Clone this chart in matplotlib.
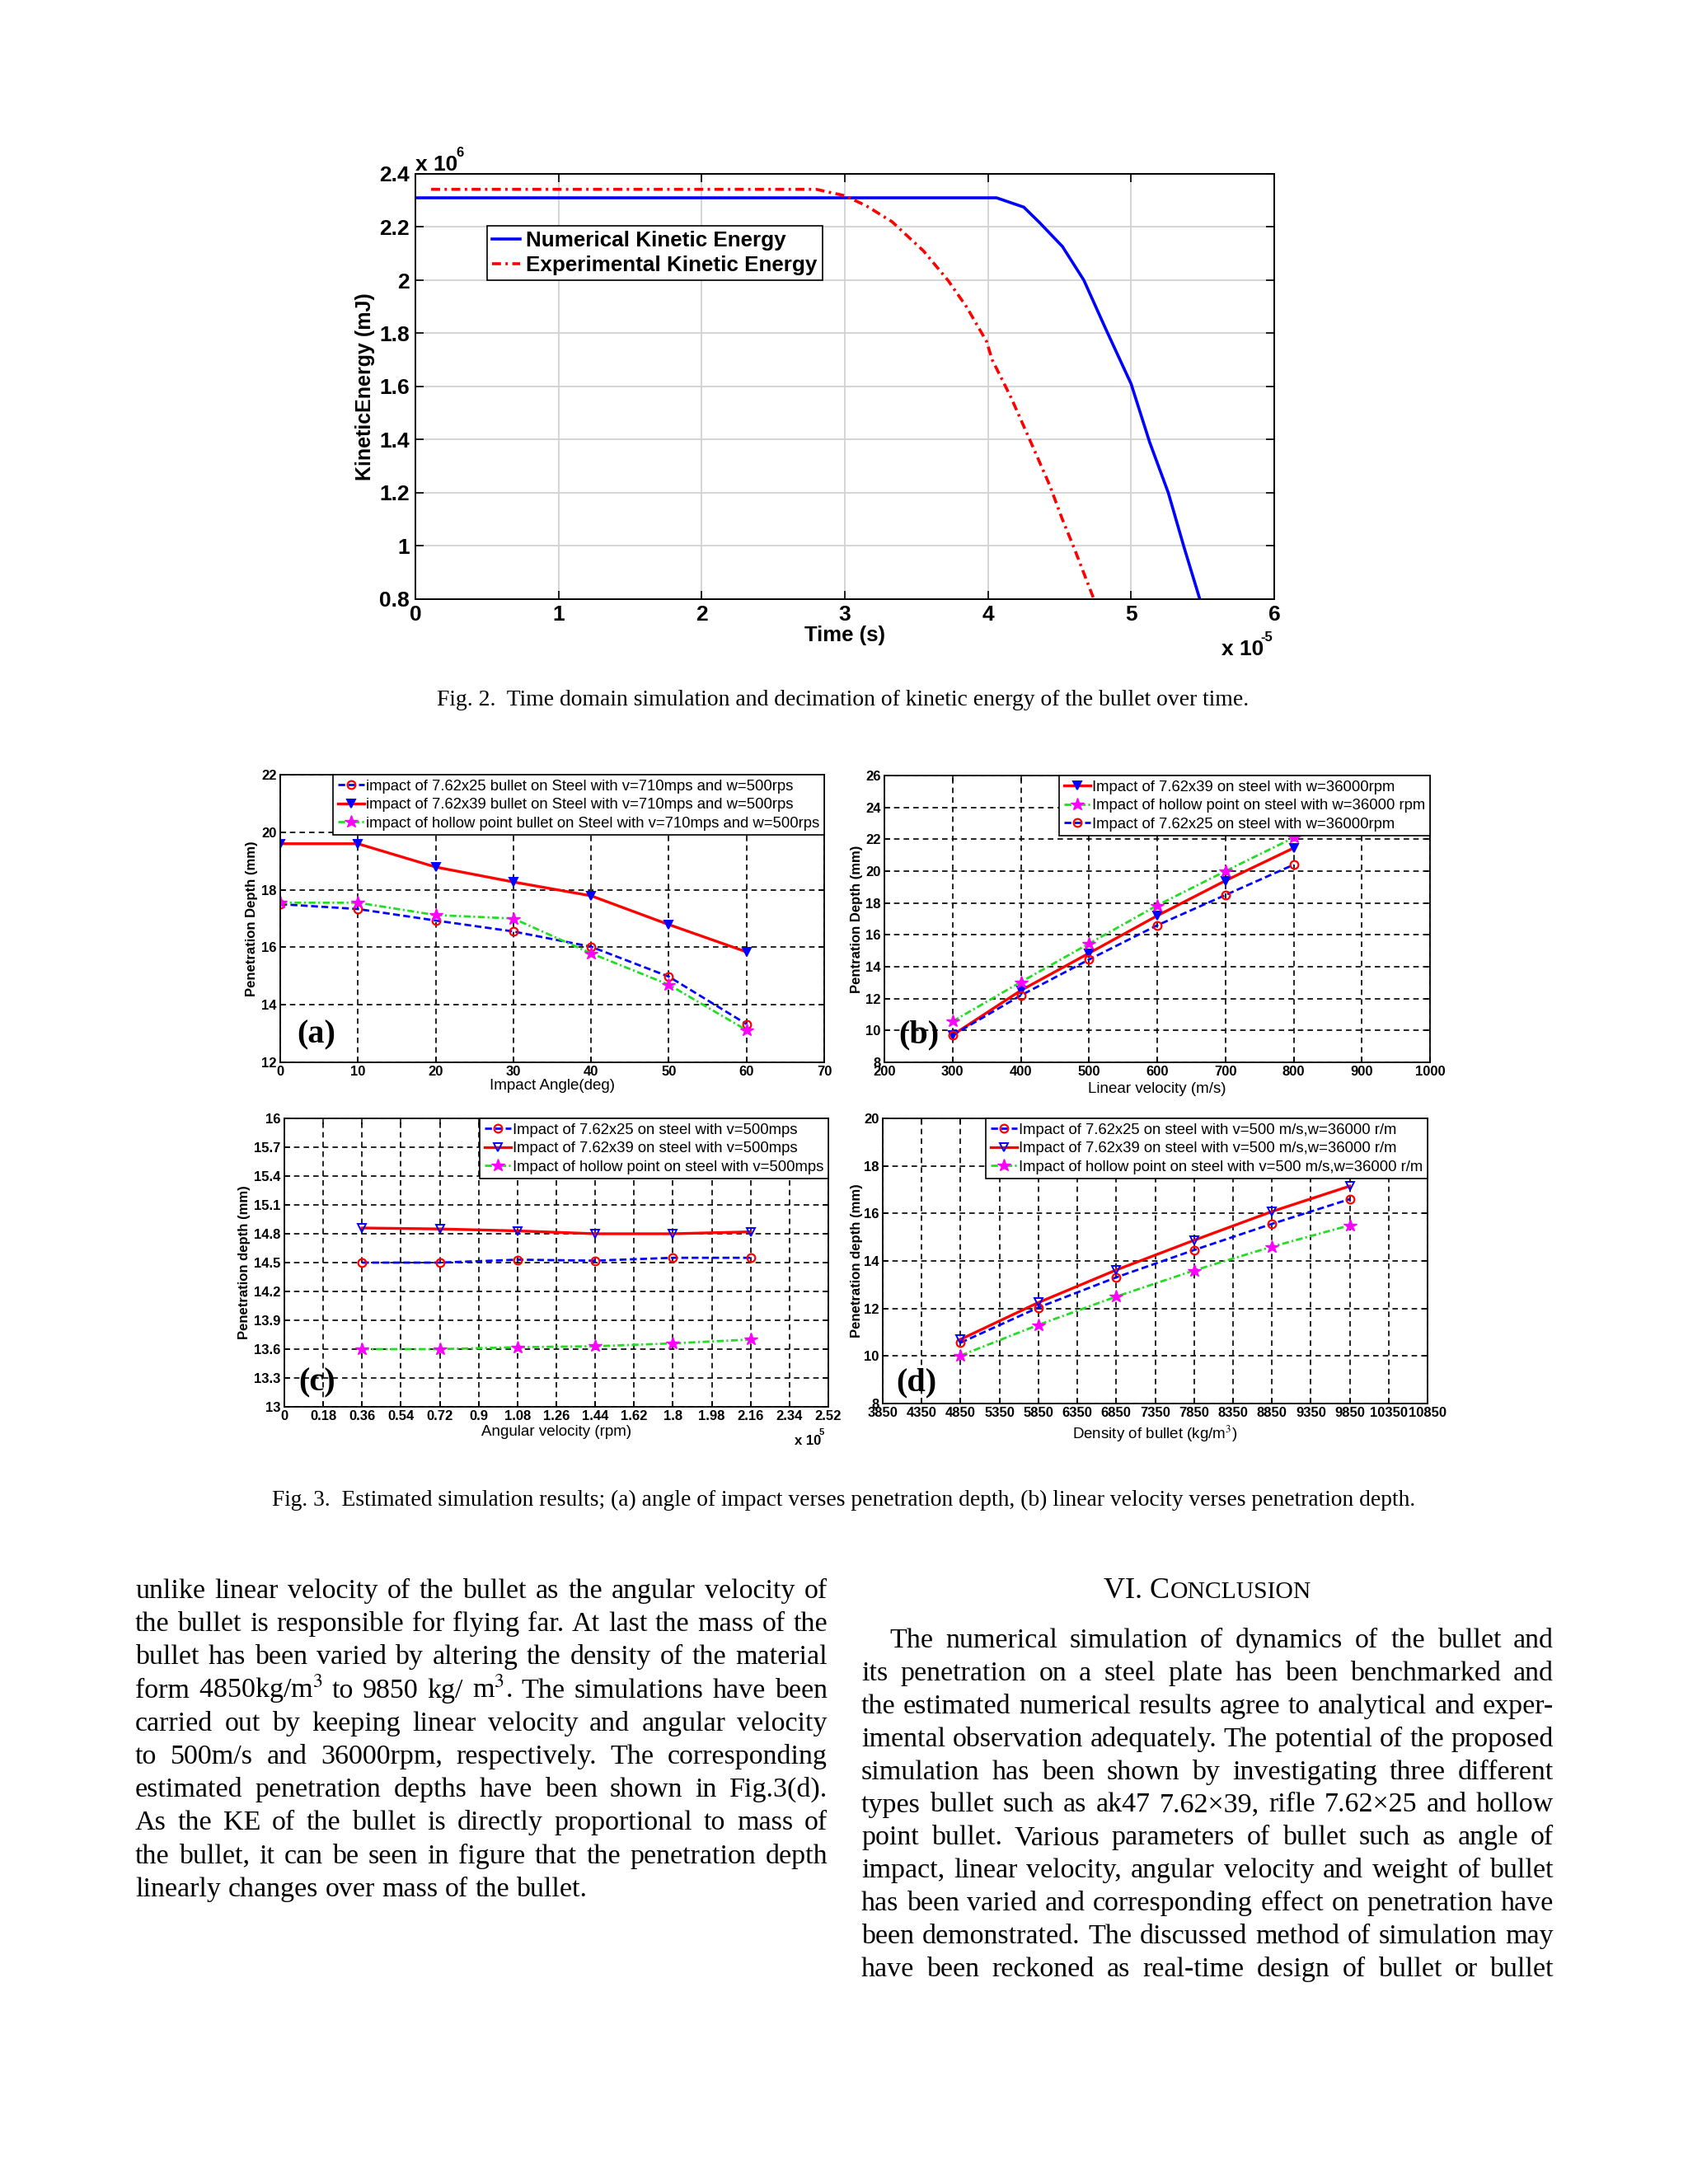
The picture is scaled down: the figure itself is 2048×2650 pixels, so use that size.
import matplotlib
matplotlib.use('Agg')
import matplotlib.pyplot as plt
from matplotlib import font_manager

# page size in pixels (figure at dpi=100)
W, H = 2048, 2650

# ---------------- Fig. 2 data (time x1e-5 s, energy x1e6 mJ) ----------------
numTime = [0, 4.06, 4.25, 4.36, 4.52, 4.67, 4.82, 5.0, 5.13, 5.26, 5.37, 5.48]
numKE = [2.31, 2.31, 2.275, 2.217, 2.127, 2.0, 1.82, 1.61, 1.39, 1.20, 0.995, 0.80]
expTime = [0.11, 2.8, 3.0, 3.15, 3.33, 3.55, 3.72, 3.85, 3.99, 4.03, 4.16, 4.3, 4.43, 4.52, 4.6, 4.74]
expKE = [2.342, 2.342, 2.318, 2.28, 2.22, 2.11, 2.0, 1.90, 1.77, 1.70, 1.56, 1.39, 1.23, 1.10, 0.995, 0.80]

# ---------------- Fig. 3 data (penetration depth, mm) ----------------
# (a) impact angle
angle = [0, 10, 20, 30, 40, 50, 60]
a762x25 = [17.5, 17.33, 16.93, 16.55, 16.02, 14.98, 13.33]
a762x39 = [19.6, 19.6, 18.79, 18.27, 17.79, 16.79, 15.84]
aHollow = [17.55, 17.55, 17.12, 17.0, 15.79, 14.7, 13.12]
# (b) linear velocity
linVel = [300, 400, 500, 600, 700, 800]
b762x39 = [9.71, 12.51, 14.85, 17.2, 19.4, 21.45]
bHollow = [10.57, 13.04, 15.45, 17.85, 20.0, 22.1]
b762x25 = [9.7, 12.2, 14.45, 16.6, 18.5, 20.4]
# (c) angular velocity (x1e5 rpm)
angVel = [0.36, 0.72, 1.08, 1.44, 1.8, 2.16]
c762x25 = [14.50, 14.50, 14.53, 14.52, 14.55, 14.55]
c762x39 = [14.86, 14.85, 14.83, 14.80, 14.80, 14.82]
cHollow = [13.60, 13.60, 13.62, 13.63, 13.66, 13.70]
# (d) density
density = [4850, 5850, 6850, 7850, 8850, 9850]
d762x25 = [10.56, 12.04, 13.31, 14.46, 15.56, 16.6]
d762x39 = [10.7, 12.25, 13.62, 14.87, 16.08, 17.15]
dHollow = [10.02, 11.31, 12.5, 13.6, 14.6, 15.5]

# ---------------- page text ----------------
fig2Caption = 'Fig. 2.  Time domain simulation and decimation of kinetic energy of the bullet over time.'
fig3Caption = ('Fig. 3.  Estimated simulation results; (a) angle of impact verses penetration depth, '
               '(b) linear velocity verses penetration depth.')
leftLines = [
    'unlike linear velocity of the bullet as the angular velocity of',
    'the bullet is responsible for flying far. At last the mass of the',
    'bullet has been varied by altering the density of the material',
    'form 4850kg/m$^3$ to 9850 kg/ m$^3$. The simulations have been',
    'carried out by keeping linear velocity and angular velocity',
    'to 500m/s and 36000rpm, respectively. The corresponding',
    'estimated penetration depths have been shown in Fig.3(d).',
    'As the KE of the bullet is directly proportional to mass of',
    'the bullet, it can be seen in figure that the penetration depth',
    'linearly changes over mass of the bullet.',
]
rightLines = [
    'The numerical simulation of dynamics of the bullet and',
    'its penetration on a steel plate has been benchmarked and',
    'the estimated numerical results agree to analytical and exper-',
    'imental observation adequately. The potential of the proposed',
    'simulation has been shown by investigating three different',
    'types bullet such as ak47 7.62\u00d739, rifle 7.62\u00d725 and hollow',
    'point bullet. Various parameters of bullet such as angle of',
    'impact, linear velocity, angular velocity and weight of bullet',
    'has been varied and corresponding effect on penetration have',
    'been demonstrated. The discussed method of simulation may',
    'have been reckoned as real-time design of bullet or bullet',
]


def fontOk(name):
    try:
        font_manager.findfont(font_manager.FontProperties(family=name), fallback_to_default=False)
        return True
    except ValueError:
        return False


NARROW = 'Liberation Sans Narrow' if fontOk('Liberation Sans Narrow') else 'Liberation Sans'
k = 1.12 if NARROW == 'Liberation Sans Narrow' else 1.0   # narrow face can go a bit larger
SANS = 'Liberation Sans'
SERIF = 'Liberation Serif'
plt.rcParams['mathtext.fontset'] = 'stix'

BLUE, RED, GREEN, MAGENTA = '#0000ff', '#ff0000', '#22dd22', '#ff00ff'

fig = plt.figure(figsize=(W / 100, H / 100), dpi=100, facecolor='white')


def pxAxes(l, r, t, b):
    return fig.add_axes([l / W, 1 - b / H, (r - l) / W, (b - t) / H])


def pxText(x, y, s, **kw):
    return fig.text(x / W, 1 - y / H, s, **kw)


# ======================= Fig. 2 =======================
ax = pxAxes(504, 1546, 211, 727)
ax.plot(numTime, numKE, color=BLUE, lw=2.6, label='Numerical Kinetic Energy')
ax.plot(expTime, expKE, color=RED, lw=2.6, ls=(0, (3, 1.5, 0.8, 1.5)),
        label='Experimental Kinetic Energy')
ax.set_xlim(0, 6)
ax.set_ylim(0.8, 2.4)
ax.set_xticks(range(7))
ax.set_yticks([0.8, 1.0, 1.2, 1.4, 1.6, 1.8, 2.0, 2.2, 2.4])
ax.set_yticklabels(['0.8', '1', '1.2', '1.4', '1.6', '1.8', '2', '2.2', '2.4'])
ax.grid(True, color='#d2d2d2', lw=1.3)
ax.set_axisbelow(True)
ax.tick_params(direction='in', top=True, right=True, length=7, width=1.2, labelsize=19 * k, pad=5)
for lab in ax.get_xticklabels() + ax.get_yticklabels():
    lab.set_fontfamily(NARROW)
    lab.set_fontweight('bold')
for sp in ax.spines.values():
    sp.set_linewidth(1.4)
ax.set_xlabel('Time (s)', fontfamily=NARROW, fontweight='bold', fontsize=18.5 * k)
ax.xaxis.set_label_coords(0.5, -44 / 516)
ax.xaxis.label.set_va('center')
ax.set_ylabel('KineticEnergy (mJ)', fontfamily=SANS, fontweight='bold', fontsize=18)
ax.yaxis.set_label_coords(-61 / 1042, 0.5)
ax.yaxis.label.set_va('center')
leg = ax.legend(loc='upper left', bbox_to_anchor=(87 / 1042, 1 - 63 / 516), fancybox=False,
                edgecolor='black', framealpha=1, handlelength=1.3, handletextpad=0.25,
                borderpad=0.25, labelspacing=0.2, borderaxespad=0,
                prop={'family': NARROW, 'weight': 'bold', 'size': 18.7 * k})
leg.get_frame().set_linewidth(1.2)
# MATLAB style exponent labels
pxText(504, 207, 'x 10', fontfamily=NARROW, fontweight='bold', fontsize=19 * k, va='baseline')
pxText(553, 190, '6', fontfamily=NARROW, fontweight='bold', fontsize=12 * k, va='baseline')
pxText(1482, 795, 'x 10', fontfamily=NARROW, fontweight='bold', fontsize=19 * k, va='baseline')
pxText(1529, 778, '-5', fontfamily=NARROW, fontweight='bold', fontsize=12 * k, va='baseline')

pxText(1023, 850, fig2Caption, fontfamily=SERIF, fontsize=19.9, ha='center', va='center')


# ======================= Fig. 3 =======================
def style(kind, openTri=False):
    if kind == '25':
        return dict(color=BLUE, ls=(0, (3, 1.5)), lw=2.0, marker='o', ms=7, mfc='none', mec=RED, mew=1.6)
    if kind == '39':
        return dict(color=RED, ls='-', lw=2.4, marker='v', ms=7.5,
                    mfc='none' if openTri else BLUE, mec=BLUE, mew=1.4)
    return dict(color=GREEN, ls=(0, (3, 1.2, 0.8, 1.2)), lw=2.0, marker='*', ms=11.5,
                mfc=MAGENTA, mec=MAGENTA, mew=1)


def panel(box, x, series, xlim, xticks, xticklabels, ylim, yticks, yticklabels,
          xlabel, ylabel, tag, tagPos, xlabPos, ylabPos, openTri=False):
    a = pxAxes(*box)
    for kind, vals, label in series:
        a.plot(x, vals, label=label, **style(kind, openTri))
    a.set_xlim(*xlim)
    a.set_ylim(*ylim)
    a.set_xticks(xticks)
    a.set_xticklabels(xticklabels)
    a.set_yticks(yticks)
    a.set_yticklabels(yticklabels)
    a.grid(True, color='black', ls=(0, (4, 3)), lw=1.2)
    a.set_axisbelow(True)
    a.tick_params(direction='in', top=True, right=True, length=5, width=1.1,
                  labelsize=12 * k, pad=3)
    for lab in a.get_xticklabels() + a.get_yticklabels():
        lab.set_fontfamily(NARROW)
        lab.set_fontweight('bold')
    for sp in a.spines.values():
        sp.set_linewidth(1.3)
    a.set_xlabel(xlabel, fontfamily=NARROW, fontsize=13.5 * k)
    a.xaxis.set_label_coords(*xlabPos)
    a.xaxis.label.set_va('center')
    a.set_ylabel(ylabel, fontfamily=SANS, fontweight='bold', fontsize=12)
    a.yaxis.set_label_coords(*ylabPos)
    a.yaxis.label.set_va('center')
    lg = a.legend(loc='upper right', borderaxespad=0, fancybox=False, edgecolor='black',
                  framealpha=1, handlelength=1.75, handletextpad=0.1, borderpad=0.3,
                  labelspacing=0.3, prop={'family': NARROW, 'size': 13.3 * k})
    lg.get_frame().set_linewidth(1.2)
    a.text(tagPos[0], tagPos[1], tag, transform=a.transAxes, fontfamily=SERIF,
           fontweight='bold', fontsize=29, ha='left', va='center')
    return a


panel((340, 1000, 940, 1289), angle,
      [('25', a762x25, 'impact of 7.62x25 bullet on Steel with v=710mps and w=500rps'),
       ('39', a762x39, 'impact of 7.62x39 bullet on Steel with v=710mps and w=500rps'),
       ('h', aHollow, 'impact of hollow point bullet on Steel with v=710mps and w=500rps')],
      (0, 70), range(0, 71, 10), [str(v) for v in range(0, 71, 10)],
      (12, 22), range(12, 23, 2), [str(v) for v in range(12, 23, 2)],
      'Impact Angle(deg)', 'Penetration Depth (mm)', '(a)',
      (0.03, 0.095), (0.5, -29 / 349), (-0.052, 0.5))

panel((1073, 1735, 941, 1289), linVel,
      [('39', b762x39, 'Impact of 7.62x39 on steel with w=36000rpm'),
       ('h', bHollow, 'Impact of hollow point on steel with w=36000 rpm'),
       ('25', b762x25, 'Impact of 7.62x25 on steel with w=36000rpm')],
      (200, 1000), range(200, 1001, 100), [str(v) for v in range(200, 1001, 100)],
      (8, 26), range(8, 27, 2), [str(v) for v in range(8, 27, 2)],
      'Linear velocity (m/s)', 'Pentration Depth (mm)', '(b)',
      (0.026, 0.095), (0.5, -32 / 348), (-0.051, 0.5))

cTicks = [i * 0.18 for i in range(15)]
cTickLabels = ['0', '0.18', '0.36', '0.54', '0.72', '0.9', '1.08', '1.26', '1.44', '1.62',
               '1.8', '1.98', '2.16', '2.34', '2.52']
cYTicks = [13 + i * 0.3 for i in range(11)]
cYLabels = ['13', '13.3', '13.6', '13.9', '14.2', '14.5', '14.8', '15.1', '15.4', '15.7', '16']
panel((345, 1005, 1357, 1707), angVel,
      [('25', c762x25, 'Impact of 7.62x25 on steel with v=500mps'),
       ('39', c762x39, 'Impact of 7.62x39 on steel with v=500mps'),
       ('h', cHollow, 'Impact of hollow point on steel with v=500mps')],
      (0, 2.52), cTicks, cTickLabels, (13, 16), cYTicks, cYLabels,
      'Angular velocity (rpm)', 'Penetration depth (mm)', '(c)',
      (0.026, 0.083), (0.5, -30 / 350), (-0.073, 0.5), openTri=True)
pxText(964, 1753, 'x 10', fontfamily=NARROW, fontweight='bold', fontsize=12 * k, va='baseline')
pxText(994, 1741, '5', fontfamily=NARROW, fontweight='bold', fontsize=8 * k, va='baseline')

panel((1071, 1732, 1357, 1703), density,
      [('25', d762x25, 'Impact of 7.62x25 on steel with v=500 m/s,w=36000 r/m'),
       ('39', d762x39, 'Impact of 7.62x39 on steel with v=500 m/s,w=36000 r/m'),
       ('h', dHollow, 'Impact of hollow point on steel with v=500 m/s,w=36000 r/m')],
      (3850, 10850), range(3850, 10851, 500), [str(v) for v in range(3850, 10851, 500)],
      (8, 20), range(8, 21, 2), [str(v) for v in range(8, 21, 2)],
      'Density of bullet (kg/m$^3$)', 'Penetration depth (mm)', '(d)',
      (0.024, 0.072), (0.5, -37 / 346), (-0.048, 0.5), openTri=True)

pxText(1024, 1820, fig3Caption, fontfamily=SERIF, fontsize=19.8, ha='center', va='center')

# ======================= body text (justified) =======================
renderer = fig.canvas.get_renderer()
BODY = 24.5


def justified(line, x0, x1, y, last=False):
    words = line.split(' ')
    texts = [pxText(0, y, w, fontfamily=SERIF, fontsize=BODY, va='baseline') for w in words]
    widths = [t.get_window_extent(renderer).width for t in texts]
    if last or len(words) == 1:
        gap = BODY * 100 / 72 * 0.25
    else:
        gap = (x1 - x0 - sum(widths)) / (len(words) - 1)
    x = x0
    for t, w in zip(texts, widths):
        t.set_x(x / W)
        x += w + gap


LEFT0, LEFT1 = 164, 1004
RIGHT0, RIGHT1 = 1045, 1885
for i, line in enumerate(leftLines):
    justified(line, LEFT0, LEFT1, 1939 + 40.2 * i, last=(i == len(leftLines) - 1))
for i, line in enumerate(rightLines):
    x0 = RIGHT0 + 34 if i == 0 else RIGHT0
    justified(line, x0, RIGHT1, 1999 + 39.9 * i)

# section heading in small caps
h1 = pxText(0, 1939, 'VI. C', fontfamily=SERIF, fontsize=26, va='baseline')
h2 = pxText(0, 1939, 'ONCLUSION', fontfamily=SERIF, fontsize=26 * 0.82, va='baseline')
w1 = h1.get_window_extent(renderer).width
w2 = h2.get_window_extent(renderer).width
hx = 1465 - (w1 + w2) / 2
h1.set_x(hx / W)
h2.set_x((hx + w1) / W)

fig.savefig('out.png', dpi=100, facecolor='white')
